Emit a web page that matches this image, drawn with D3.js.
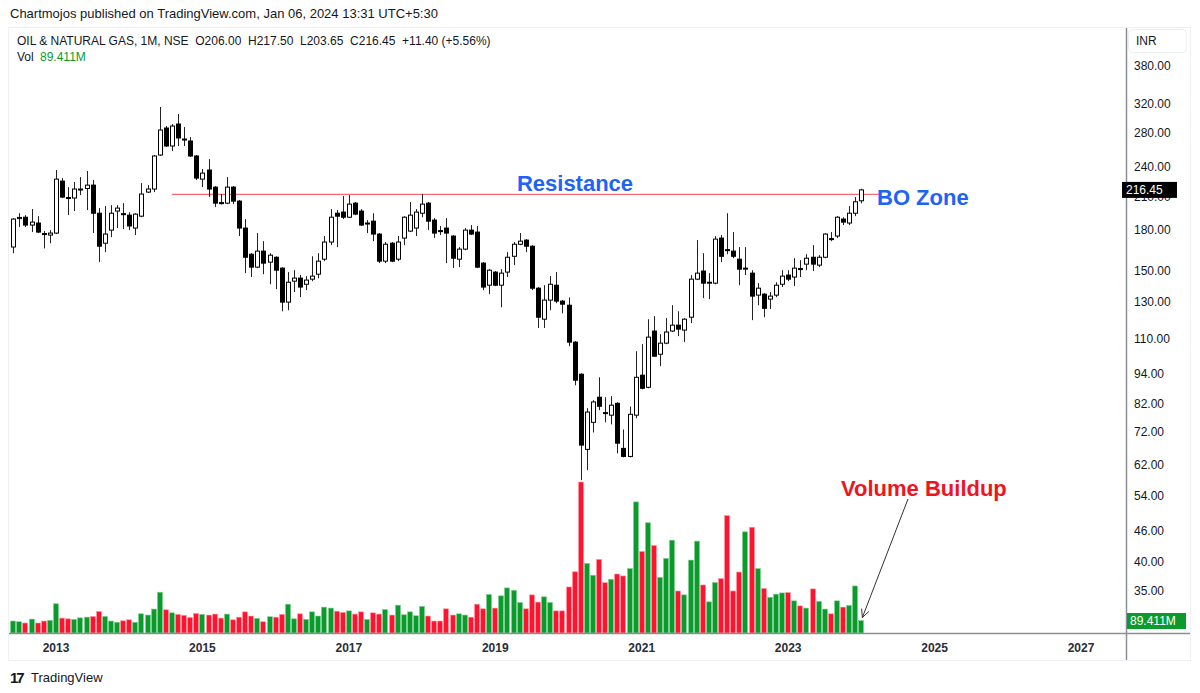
<!DOCTYPE html>
<html>
<head>
<meta charset="utf-8">
<script src="https://cdn.jsdelivr.net/npm/d3@7"></script>
<style>
  html, body { margin: 0; padding: 0; background: #fff; }
  svg { display: block; font-family: "Liberation Sans", Arial, sans-serif; }
</style>
</head>
<body>
<svg id="chart" width="1200" height="693"></svg>
<script>
// ONGC monthly, Jun 2012 .. Jan 2024 (prices)
const startYear = 2012, startMonth = 5; // June 2012 = index 0

const open = [167,190,191.2,184.5,186.2,177.5,176.3,177.9,225.3,209.1,208.6,216.8,217.8,221.2,194.7,169.9,180.3,196.6,194.3,193,
  182,192.1,214.3,217.3,253.6,286.7,264.2,292,272.7,270.3,252.5,227.3,236.9,219.2,204.3,203.8,219.2,205.7,182,161.6,
  152.4,163.9,155.9,159.4,151.7,130,143,145,141,144.3,147.6,158,170.8,194.7,195.7,191.2,203.8,196.6,185.8,187.8,
  177.1,156.6,169.9,158,173.9,179.5,182,194.7,203.8,188.7,179.9,182,175.5,158,165.4,180.3,178.7,155.2,140.4,149,
  140.4,149,160.1,169.1,172.3,167.6,138.5,120.3,131.2,140.4,130.6,128.2,108.4,93.7,66.6,75.3,84.4,78.7,77.8,82.1,
  66.9,64.5,77.8,93.3,88.3,114,102.6,107.9,114,117.1,114.5,121.4,144.3,149.7,142,141.7,173.9,165,163.9,158,
  151.4,148.3,134.2,134.8,131.8,134.2,141,147,145.7,151.4,154.5,159.4,153.8,159.4,173.5,175.5,189.6,186.2,194.7,206];
const high = [190.4,194.7,193,198.4,192.1,179.5,180.3,236.9,228.4,219.2,224.3,229.4,235.8,226.3,199.3,201.1,202,202,203.8,195.6,
  194.7,223.2,221.2,253.6,315.4,289.3,292,305.5,288,275.2,253.6,238,249,220.2,212.4,229.4,220.2,206.7,189.6,162.4,
  177.9,171.5,162.4,160.1,152.4,149,150.3,147,146.3,160.1,162.4,175.5,198.4,197.5,210.5,211.4,204.8,198.4,188.7,194.7,
  177.9,170.8,170.8,175.5,192.1,204.8,198.4,212.4,204.8,190.4,183.7,190.4,176.3,166.9,182,184.5,183.7,155.9,151,149.7,
  151,163.1,170.8,177.9,173.1,168.4,139.2,140.4,146.3,149,131.2,132.8,108.9,94.1,80.3,83.3,92.4,84.4,84.8,82.5,
  72.9,80.9,104,107.4,120.3,122,112.4,120.9,128.2,124.7,120.9,147,172.3,162.4,148.3,175.5,176.3,194.7,178.7,166.9,
  166.9,150.3,141.7,135.4,136.1,142.3,150.3,150.3,158.7,157.3,161.6,168.4,160.9,177.9,178.7,192.1,191.2,201.1,209.5,217.5];
const low = [162.4,182.8,182.8,178.7,177.9,165.9,169.9,177.1,208.6,193,196.6,211.4,197.5,177.9,155.9,163.1,174.7,182,181.2,180.3,
  176.3,191.2,213.4,214.3,252.5,263,258.2,264.2,264.2,251.3,226.3,219.2,209.5,200.2,202.5,202.9,202.9,175.5,148.3,145.7,
  151.7,147.6,141,137.9,124.7,125.3,136.1,133,137.3,143,144.9,156.6,168.4,166.9,189.6,190.4,193,183.7,177.9,171.5,
  155.2,155.2,155.9,156.6,168.4,178.7,175.5,191.2,180.3,173.9,176.3,155.2,151.7,152.4,164.6,176.3,151.7,137.3,134.8,139.8,
  127,145.7,153.8,168.4,163.1,137.3,115.6,115.6,125.3,129.4,123.6,106.4,89.1,57.9,60.6,71.9,79.6,75.3,74.6,65.4,
  64.2,64.2,76.7,87.5,87.9,101.3,97.2,107.4,113.5,111.4,108.4,118.2,143.7,132.4,131.8,141,155.9,161.6,158.7,140.4,
  147,119.8,128.2,121.4,126,133,139.2,143,139.8,145.7,150.3,149.7,152.4,158.7,171.5,173.9,184.5,184.5,192.1,203.65];
const close = [189.6,191,184.5,187,178.7,177.1,177.9,227.3,209.5,208.6,217.3,217.3,221.2,194.7,167.6,177.1,194.7,199.3,193.9,183.7,
  193.9,212.4,217.3,252.5,284.1,264.2,289.3,274,272.1,252.5,228.4,233.6,217.3,203.8,203.8,219.2,205.7,182,159.4,152.4,
  163.9,155.2,160.9,150.3,130,142.3,145,139.2,143.7,146.3,156.6,170.8,191.2,192.1,191.2,202.9,193.9,184.5,186.2,177.1,
  156.6,169.1,156.6,170.8,191.2,193,195.7,202.9,187.8,177.9,179.5,177.9,158.7,165.4,180.3,177.1,152.4,139.2,150.3,140.4,
  148.3,159.4,169.1,171.5,167.6,138.5,121.4,131.2,141,130.6,128.8,108.4,91.2,67.9,78.9,82.6,81,78.5,81.4,68.5,
  64.5,78.1,92.4,87.9,110.9,101.7,107.9,113.5,117.1,115,120.3,144.3,148.3,141.7,142.3,173.1,160.1,164.6,160.1,151,
  151.7,133.6,138.5,126.4,133.6,140.4,146.3,144.3,151.7,151,158.7,154.5,159.4,177.1,173.1,191.2,187,194.7,205.05,216.45];
// volume in millions
const volume = [86,81,72,100,72,86,91,210,107,102,98,109,114,119,155,119,86,77,88,95,
  77,138,129,172,293,167,145,134,127,112,141,134,129,136,107,136,95,114,152,122,
  105,81,117,114,134,207,102,138,98,152,122,186,179,157,148,159,136,152,98,145,
  136,169,129,200,131,152,124,191,122,86,86,174,129,138,129,114,207,174,277,179,
  267,324,307,219,174,274,222,260,219,159,159,331,440,1085,500,415,529,362,386,424,
  410,463,942,586,792,629,400,536,667,302,274,524,660,345,224,362,391,844,302,438,
  727,760,463,320,257,279,288,291,231,195,179,317,227,172,138,231,186,198,338,89.411];

const yearTicks = [2013, 2015, 2017, 2019, 2021, 2023, 2025, 2027];
const priceTicks = [35, 40, 46, 54, 62, 72, 82, 94, 110, 130, 150, 180, 210, 240, 280, 320, 380];
const resistance = 212;
const resistanceFrom = 26, resistanceTo = 142; // month indexes

const green = '#0b9b2c', red = '#ff1430', blue = '#1e63f5';

const svg = d3.select('#chart');
const W = 1200, H = 693;
const plot = {left: 9, right: 1126, top: 28, bottom: 633};

const monthIndex = (year, month) => (year - startYear) * 12 + (month - startMonth);

// scales
const x = d3.scaleLinear()
  .domain([monthIndex(2013, 0), monthIndex(2027, 0)])
  .range([56, 1081]);
const y = d3.scaleLog()
  .domain([35, 380])
  .range([591, 66]);
const yVol = d3.scaleLinear()
  .domain([0, d3.max(volume)])
  .range([plot.bottom, 482]);

// frame
svg.append('rect')
  .attr('x', 8.5).attr('y', 27.5)
  .attr('width', 1182).attr('height', 633)
  .attr('fill', 'none')
  .attr('stroke', '#eef0f4');

// header
svg.append('text')
  .attr('x', 10).attr('y', 18)
  .attr('font-size', 13).attr('fill', '#131722')
  .text('Chartmojos published on TradingView.com, Jan 06, 2024 13:31 UTC+5:30');

const legend = svg.append('g').attr('font-size', 12).attr('fill', '#131722');
legend.append('text').attr('x', 17).attr('y', 45)
  .attr('xml:space', 'preserve')
  .text('OIL & NATURAL GAS, 1M, NSE  O206.00  H217.50  L203.65  C216.45  +11.40 (+5.56%)');
legend.append('text').attr('x', 17).attr('y', 61).text('Vol');
legend.append('text').attr('x', 40).attr('y', 61).attr('fill', green).text('89.411M');

const chart = svg.append('g');
const idx = d3.range(open.length);

// volume bars
chart.append('g').selectAll('rect')
  .data(idx)
  .enter().append('rect')
  .attr('x', i => Math.round(x(i)) - 2.5)
  .attr('width', 5)
  .attr('y', i => yVol(volume[i]))
  .attr('height', i => plot.bottom - yVol(volume[i]))
  .attr('fill', i => close[i] >= open[i] ? green : red)
  .attr('stroke', i => close[i] >= open[i] ? '#7fcf8f' : '#ff9aa5')
  .attr('stroke-width', 0.6);

// resistance line
chart.append('line')
  .attr('x1', x(resistanceFrom)).attr('x2', x(resistanceTo))
  .attr('y1', y(resistance)).attr('y2', y(resistance))
  .attr('stroke', '#f23645').attr('stroke-opacity', 0.75)
  .attr('stroke-width', 1.2);

// candles
const candle = chart.append('g').selectAll('g')
  .data(idx)
  .enter().append('g');

candle.append('line')
  .attr('x1', i => Math.round(x(i)) + 0.5)
  .attr('x2', i => Math.round(x(i)) + 0.5)
  .attr('y1', i => y(high[i]))
  .attr('y2', i => y(low[i]))
  .attr('stroke', '#222')
  .attr('stroke-width', 1);

candle.append('rect')
  .attr('x', i => Math.round(x(i)) - 1.5)
  .attr('width', 4)
  .attr('y', i => y(Math.max(open[i], close[i])))
  .attr('height', i => Math.max(1, y(Math.min(open[i], close[i])) - y(Math.max(open[i], close[i]))))
  .attr('fill', i => close[i] >= open[i] ? '#fff' : '#000')
  .attr('stroke', '#000')
  .attr('stroke-width', 1);

// price axis
svg.append('line')
  .attr('x1', plot.right + 0.5).attr('x2', plot.right + 0.5)
  .attr('y1', 28).attr('y2', 660)
  .attr('stroke', '#8b8e97').attr('stroke-width', 1.5);
svg.append('line')
  .attr('x1', plot.left).attr('x2', 1190)
  .attr('y1', plot.bottom + 0.5).attr('y2', plot.bottom + 0.5)
  .attr('stroke', '#8b8e97').attr('stroke-width', 1.5);

svg.append('g').selectAll('text')
  .data(priceTicks)
  .enter().append('text')
  .attr('x', 1134)
  .attr('y', d => y(d) + 4)
  .attr('font-size', 12)
  .attr('fill', '#131722')
  .text(d => d3.format('.2f')(d));

// INR box
svg.append('rect')
  .attr('x', 1128.5).attr('y', 29.5).attr('width', 58).attr('height', 23).attr('rx', 4)
  .attr('fill', '#fff').attr('stroke', '#eceef2');
svg.append('text')
  .attr('x', 1136).attr('y', 45).attr('font-size', 12).attr('fill', '#131722').text('INR');

// last price label
const last = close.length - 1;
svg.append('rect')
  .attr('x', 1122).attr('y', y(close[last]) - 8)
  .attr('width', 55).attr('height', 16)
  .attr('fill', '#000');
svg.append('text')
  .attr('x', 1126).attr('y', y(close[last]) + 4)
  .attr('font-size', 12).attr('fill', '#fff')
  .text(d3.format('.2f')(close[last]));

// last volume label
svg.append('rect')
  .attr('x', 1127).attr('y', 613)
  .attr('width', 59).attr('height', 16)
  .attr('fill', green);
svg.append('text')
  .attr('x', 1130).attr('y', 625)
  .attr('font-size', 12).attr('fill', '#fff')
  .text(volume[last] + 'M');

// time axis
svg.append('g').selectAll('text')
  .data(yearTicks)
  .enter().append('text')
  .attr('x', d => x(monthIndex(d, 0)))
  .attr('y', 652)
  .attr('text-anchor', 'middle')
  .attr('font-size', 12)
  .attr('font-weight', 'bold')
  .attr('fill', '#2a2e39')
  .text(d => d);

// annotations
svg.append('text')
  .attr('x', 575).attr('y', 191)
  .attr('text-anchor', 'middle')
  .attr('font-size', 22).attr('font-weight', 'bold').attr('fill', blue)
  .text('Resistance');
svg.append('text')
  .attr('x', 877).attr('y', 205)
  .attr('font-size', 22).attr('font-weight', 'bold').attr('fill', blue)
  .text('BO Zone');
svg.append('text')
  .attr('x', 841).attr('y', 496)
  .attr('font-size', 22).attr('font-weight', 'bold').attr('fill', '#f01420')
  .text('Volume Buildup');

// arrow to the last volume bar
const ax = x(last) + 1, ay = yVol(volume[last]) - 3;
svg.append('line')
  .attr('x1', 908).attr('y1', 499)
  .attr('x2', ax).attr('y2', ay)
  .attr('stroke', '#333').attr('stroke-width', 1);
const ang = Math.atan2(ay - 499, ax - 908);
const hl = 9;
svg.append('path')
  .attr('d', `M${ax + hl * Math.cos(ang + Math.PI - 0.45)},${ay + hl * Math.sin(ang + Math.PI - 0.45)}L${ax},${ay}L${ax + hl * Math.cos(ang + Math.PI + 0.45)},${ay + hl * Math.sin(ang + Math.PI + 0.45)}`)
  .attr('fill', 'none').attr('stroke', '#333').attr('stroke-width', 1);

// footer logo
const logo = svg.append('g');
logo.append('text')
  .attr('x', 10).attr('y', 683)
  .attr('font-size', 15).attr('font-weight', 'bold').attr('fill', '#131722')
  .attr('letter-spacing', -2)
  .text('17');
logo.append('text')
  .attr('x', 31).attr('y', 682)
  .attr('font-size', 13).attr('fill', '#131722')
  .text('TradingView');
</script>
</body>
</html>
